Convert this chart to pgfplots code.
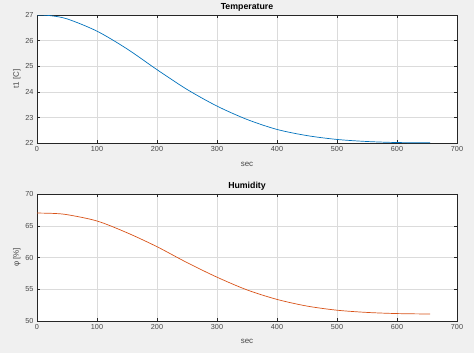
\documentclass[border=0pt]{standalone}
\usepackage{pgfplots}
\pgfplotsset{compat=1.18}
\usepackage{fontspec}
\setmainfont{Liberation Sans}
\definecolor{figbg}{RGB}{240,240,240}
\definecolor{axcol}{RGB}{38,38,38}
\definecolor{mblue}{RGB}{0,114,189}
\definecolor{morange}{RGB}{217,83,25}
\pgfplotstableread{
t v
0 27.0
20 26.98
50 26.85
100 26.37
150 25.68
200 24.87
250 24.10
300 23.45
350 22.93
400 22.54
450 22.30
500 22.15
550 22.07
600 22.03
655 22.02
}\temp
\pgfplotstableread{
t v
0 67.0
25 66.95
50 66.75
100 65.75
150 63.9
200 61.7
250 59.2
300 56.9
350 54.9
400 53.4
450 52.35
500 51.7
550 51.35
600 51.17
655 51.1
}\hum
\pgfplotsset{
  mstyle/.style={
    scale only axis, width=420bp,
    xmin=0, xmax=700, xtick={0,100,...,700},
    axis line style={axcol, line width=0.5pt},
    tick style={axcol, line width=0.5pt},
    major tick length=3bp,
    tick align=inside,
    xtick pos=both, ytick pos=both,
    grid=major,
    major grid style={gray!28, line width=0.4pt},
    tick label style={font=\fontsize{7.3}{8}\selectfont, text=axcol!85},
    label style={font=\fontsize{8}{9}\selectfont, text=axcol!85},
    title style={font=\bfseries\fontsize{8.8}{10}\selectfont, yshift=-6bp},
    /pgf/number format/assume math mode=true,
    xlabel={sec},
    xlabel style={yshift=-3bp},
    ylabel style={yshift=-2bp},
    axis background/.style={fill=white},
  }
}
\begin{document}
\begin{tikzpicture}
\fill[figbg] (0,0) rectangle (474bp,353bp);
\useasboundingbox (0,0) rectangle (474bp,353bp);
\begin{axis}[mstyle, at={(37bp,209.7bp)}, anchor=south west, height=128.3bp,
  ymin=22, ymax=27, ytick={22,23,...,27}, title={Temperature}, ylabel={t1 [C]}]
\addplot[mblue, line width=0.7pt, smooth] table[x=t,y=v] {\temp};
\end{axis}
\begin{axis}[mstyle, at={(37bp,32bp)}, anchor=south west, height=127bp,
  ymin=50, ymax=70, ytick={50,55,...,70}, title={Humidity}, ylabel={φ [\%]}]
\addplot[morange, line width=0.7pt, smooth] table[x=t,y=v] {\hum};
\end{axis}
\end{tikzpicture}
\end{document}
